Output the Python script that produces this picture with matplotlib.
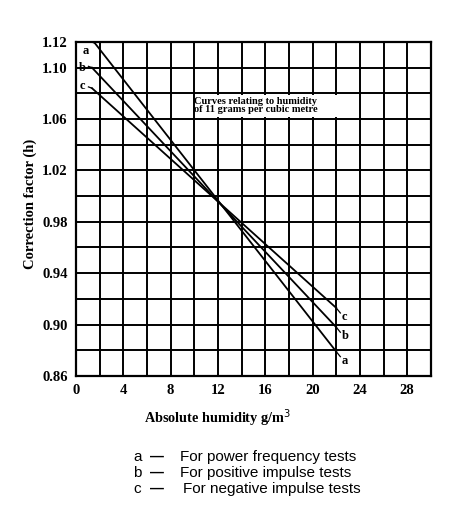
import numpy as np
import matplotlib
matplotlib.use("Agg")
import matplotlib.pyplot as plt
from matplotlib.patches import Rectangle

# curve end points: (humidity g/m3, correction factor)
curve_names = ["a", "b", "c"]
humidity_a = [1.6, 22.0]
factor_a = [1.119, 0.879]
humidity_b = [1.35, 22.0]
factor_b = [1.100, 0.898]
humidity_c = [1.35, 22.0]
factor_c = [1.084, 0.913]
legend_texts = ["For power frequency tests",
                "For positive impulse tests",
                "For negative impulse tests"]

x_ticks = [0, 4, 8, 12, 16, 20, 24, 28]
y_ticks = [0.86, 0.90, 0.94, 0.98, 1.02, 1.06, 1.10, 1.12]

serif = "Liberation Serif"
sans = "Liberation Sans"

fig = plt.figure(figsize=(4.59, 5.31), dpi=100)
ax = fig.add_axes([0.1656, 0.292, 0.773, 0.629])

ax.set_xlim(0, 30)
ax.set_ylim(0.86, 1.12)

# grid every 2 g/m3 and every 0.02
for gx in np.arange(0, 31, 2):
    ax.axvline(gx, color="black", lw=1.4, zorder=1)
for gy in np.arange(0.86, 1.1201, 0.02):
    ax.axhline(gy, color="black", lw=1.4, zorder=1)

for s in ax.spines.values():
    s.set_linewidth(1.6)

# white box behind the note
ax.add_patch(Rectangle((10.1, 1.0615), 13.8, 0.0170, facecolor="white",
                       edgecolor="none", zorder=2))
ax.text(15.2, 1.0705, "Curves relating to humidity\nof 11 grams per cubic metre",
        ha="center", va="center", fontsize=7.5, family=serif, fontweight="bold",
        linespacing=0.9, zorder=3)

curves = [(humidity_a, factor_a), (humidity_b, factor_b), (humidity_c, factor_c)]
start_offsets = [(-0.55, -0.006), (-0.55, 0.0), (-0.6, 0.002)]
for name, (hx, hy), (dx, dy) in zip(curve_names, curves, start_offsets):
    ax.plot(hx, hy, color="black", lw=1.3, zorder=4)
    # leaders to the labels
    ax.plot([hx[0], hx[0] - 0.3], [hy[0], hy[0] + 0.001], color="black", lw=0.9, zorder=4)
    ax.plot([hx[1], hx[1] + 0.35], [hy[1], hy[1] - 0.004], color="black", lw=0.9, zorder=4)
    ax.text(hx[0] + dx, hy[0] + dy, name, ha="right", va="center",
            fontsize=9, family=serif, fontweight="bold", zorder=5)
    ax.text(hx[1] + 0.45, hy[1] - 0.007, name, ha="left", va="center",
            fontsize=9, family=serif, fontweight="bold", zorder=5)

ax.set_xticks(x_ticks)
ax.set_yticks(y_ticks)
ax.set_yticklabels([f"{v:.2f}" for v in y_ticks])
ax.tick_params(length=0, pad=6)
for lab in ax.get_xticklabels() + ax.get_yticklabels():
    lab.set_family(serif)
    lab.set_fontweight("bold")
    lab.set_fontsize(10.5)

ax.set_xlabel("Absolute humidity g/m$^3$", family=serif, fontweight="bold",
              fontsize=10.3, labelpad=6)
ax.xaxis.set_label_coords(0.40, -0.095)
ax.set_ylabel("Correction factor (h)", family=serif, fontweight="bold",
              fontsize=10.5, labelpad=8)
ax.yaxis.set_label_coords(-0.11, 0.515)

# key below the chart
for i, (name, txt) in enumerate(zip(curve_names, legend_texts)):
    yy = 1 - (457 + i * 16) / 531
    fig.text(133 / 459, yy, name, family=sans, fontsize=11, va="center")
    fig.text(150 / 459, yy, "—", family=sans, fontsize=10, va="center", fontweight="bold")
    fig.text((180 + (3 if i == 2 else 0)) / 459, yy, txt, family=sans, fontsize=11, va="center")

fig.savefig("out.png", dpi=100)
